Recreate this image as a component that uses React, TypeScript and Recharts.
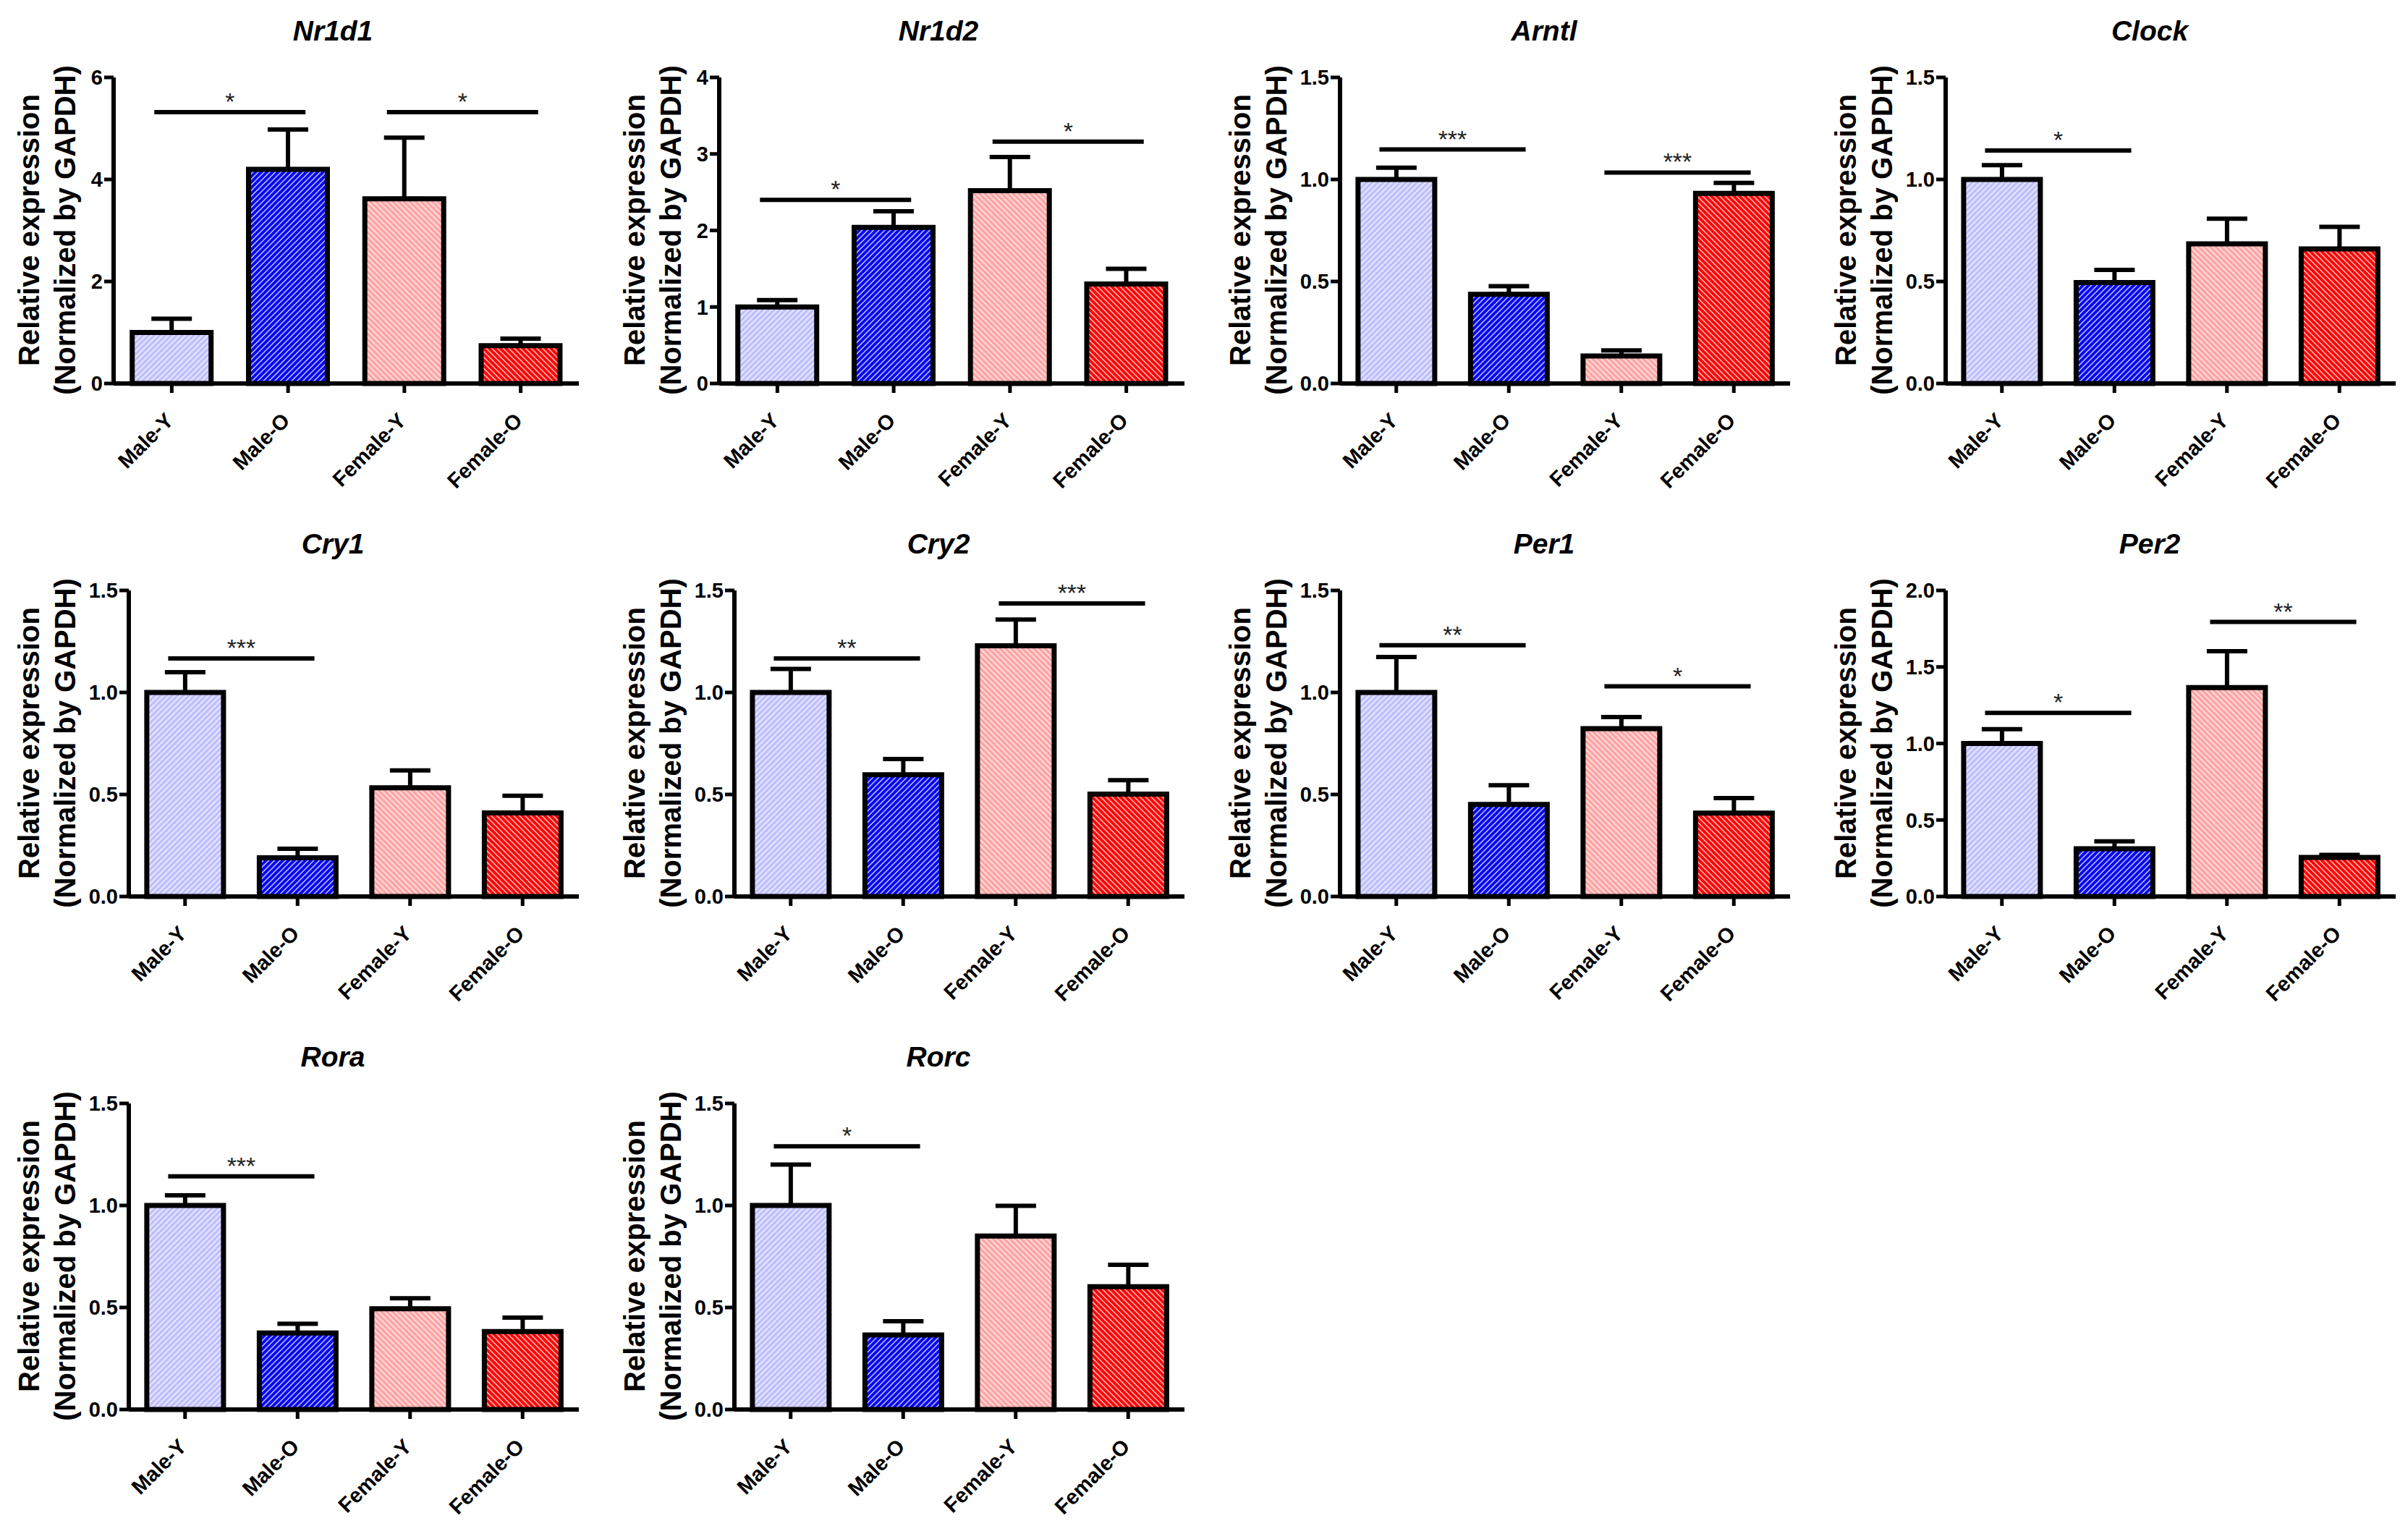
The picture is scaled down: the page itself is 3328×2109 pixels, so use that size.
import React from 'react';
import { BarChart, Bar, XAxis, YAxis, Cell, ErrorBar, ReferenceLine } from 'recharts';

const FONT = '"Liberation Sans", Arial, Helvetica, sans-serif';

const groups = ['Male-Y', 'Male-O', 'Female-Y', 'Female-O'];
const groupFills = ['#c0c0ff', '#0000f2', '#ffa4a4', '#ff0000'];
const groupSlant = [45, 45, -45, -45];

// means and SEM (upper error only)
const nr1d1 = [1.0, 4.2, 3.62, 0.74];
const nr1d1Sem = [0.27, 0.78, 1.2, 0.14];
const nr1d2 = [1.0, 2.04, 2.52, 1.3];
const nr1d2Sem = [0.09, 0.21, 0.44, 0.2];
const arntl = [1.0, 0.437, 0.135, 0.932];
const arntlSem = [0.058, 0.04, 0.027, 0.051];
const clock = [1.0, 0.495, 0.684, 0.66];
const clockSem = [0.07, 0.062, 0.124, 0.108];
const cry1 = [1.0, 0.19, 0.533, 0.41];
const cry1Sem = [0.099, 0.044, 0.085, 0.084];
const cry2 = [1.0, 0.597, 1.229, 0.502];
const cry2Sem = [0.115, 0.077, 0.128, 0.068];
const per1 = [1.0, 0.451, 0.823, 0.409];
const per1Sem = [0.174, 0.094, 0.056, 0.073];
const per2 = [1.0, 0.312, 1.365, 0.255];
const per2Sem = [0.093, 0.049, 0.238, 0.017];
const rora = [1.0, 0.375, 0.494, 0.382];
const roraSem = [0.05, 0.045, 0.051, 0.068];
const rorc = [1.0, 0.365, 0.85, 0.602];
const rorcSem = [0.2, 0.068, 0.148, 0.107];

const ticks6 = [0, 2, 4, 6];
const ticks4 = [0, 1, 2, 3, 4];
const ticks15 = [0, 0.5, 1.0, 1.5];
const ticks2 = [0, 0.5, 1.0, 1.5, 2.0];

// significance brackets: from group, to group, height, stars
const nr1d1Sig = [{ from: 0, to: 1, y: 5.32, text: '*' }, { from: 2, to: 3, y: 5.32, text: '*' }];
const nr1d2Sig = [{ from: 0, to: 1, y: 2.4, text: '*' }, { from: 2, to: 3, y: 3.16, text: '*' }];
const arntlSig = [{ from: 0, to: 1, y: 1.147, text: '***' }, { from: 2, to: 3, y: 1.034, text: '***' }];
const clockSig = [{ from: 0, to: 1, y: 1.142, text: '*' }];
const cry1Sig = [{ from: 0, to: 1, y: 1.167, text: '***' }];
const cry2Sig = [{ from: 0, to: 1, y: 1.167, text: '**' }, { from: 2, to: 3, y: 1.436, text: '***' }];
const per1Sig = [{ from: 0, to: 1, y: 1.231, text: '**' }, { from: 2, to: 3, y: 1.03, text: '*' }];
const per2Sig = [{ from: 0, to: 1, y: 1.2, text: '*' }, { from: 2, to: 3, y: 1.794, text: '**' }];
const roraSig = [{ from: 0, to: 1, y: 1.143, text: '***' }];
const rorcSig = [{ from: 0, to: 1, y: 1.29, text: '*' }];

const panels = [
  { gene: 'Nr1d1', mean: nr1d1, sem: nr1d1Sem, ticks: ticks6, sig: nr1d1Sig },
  { gene: 'Nr1d2', mean: nr1d2, sem: nr1d2Sem, ticks: ticks4, sig: nr1d2Sig },
  { gene: 'Arntl', mean: arntl, sem: arntlSem, ticks: ticks15, sig: arntlSig },
  { gene: 'Clock', mean: clock, sem: clockSem, ticks: ticks15, sig: clockSig },
  { gene: 'Cry1', mean: cry1, sem: cry1Sem, ticks: ticks15, sig: cry1Sig },
  { gene: 'Cry2', mean: cry2, sem: cry2Sem, ticks: ticks15, sig: cry2Sig },
  { gene: 'Per1', mean: per1, sem: per1Sem, ticks: ticks15, sig: per1Sig },
  { gene: 'Per2', mean: per2, sem: per2Sem, ticks: ticks2, sig: per2Sig },
  { gene: 'Rora', mean: rora, sem: roraSem, ticks: ticks15, sig: roraSig },
  { gene: 'Rorc', mean: rorc, sem: rorcSem, ticks: ticks15, sig: rorcSig },
];

const PW = 837;
const PH = 709;

function GroupTick(props: any) {
  const { x, y, payload } = props;
  const ax = x + 4;
  const ay = y + 38;
  return (
    <text
      x={ax}
      y={ay}
      transform={`rotate(-45, ${ax}, ${ay})`}
      textAnchor="end"
      fontSize={29}
      fontWeight="bold"
      fontFamily={FONT}
      fill="#000"
    >
      {payload.value}
    </text>
  );
}

function Hatches() {
  return (
    <svg width={0} height={0} style={{ position: 'absolute' }}>
      <defs>
        {groupFills.map((c, i) => (
          <pattern
            key={i}
            id={`hatch${i}`}
            patternUnits="userSpaceOnUse"
            width={5.5}
            height={5.5}
            patternTransform={`rotate(${groupSlant[i]})`}
          >
            <rect width={5.5} height={5.5} fill={c} />
            <line x1={2.75} y1={0} x2={2.75} y2={5.5} stroke="#fff" strokeWidth={1.6} opacity={0.75} />
          </pattern>
        ))}
      </defs>
    </svg>
  );
}

function Panel({ p, left, top }: any) {
  const decimal = p.ticks.some((t: number) => !Number.isInteger(t));
  const data = groups.map((g, i) => ({ group: g, pos: i + 0.5, value: p.mean[i], err: [0, p.sem[i]] }));
  const yMax = p.ticks[p.ticks.length - 1];

  return (
    <div style={{ position: 'absolute', left, top, width: PW, height: PH }}>
      <BarChart
        width={PW}
        height={PH}
        data={data}
        margin={{ top: 107, right: 37, bottom: 0, left: 0 }}
        barCategoryGap="16%"
      >
        <XAxis
          dataKey="group"
          height={179}
          interval={0}
          tickSize={13}
          tickMargin={2}
          axisLine={{ stroke: '#000', strokeWidth: 6 }}
          tickLine={{ stroke: '#000', strokeWidth: 5 }}
          tick={(props: any) => <GroupTick {...props} />}
        />
        <XAxis
          xAxisId="sig"
          dataKey="pos"
          type="number"
          domain={[0, 4]}
          allowDataOverflow
          padding={{ left: 0, right: 0 }}
          hide
        />
        <YAxis
          width={decimal ? 178 : 157}
          domain={[0, yMax]}
          ticks={p.ticks}
          interval={0}
          tickSize={13}
          tickMargin={2}
          tickFormatter={(v: number) => (decimal ? v.toFixed(1) : String(v))}
          axisLine={{ stroke: '#000', strokeWidth: 6 }}
          tickLine={{ stroke: '#000', strokeWidth: 5 }}
          tick={{ fill: '#000', fontSize: 29, fontWeight: 'bold', fontFamily: FONT }}
        />
        <Bar dataKey="value" stroke="#000" strokeWidth={7} isAnimationActive={false}>
          {data.map((d, i) => (
            <Cell key={d.group} fill={`url(#hatch${i})`} />
          ))}
          <ErrorBar dataKey="err" width={28} stroke="#000" strokeWidth={6} isAnimationActive={false} />
        </Bar>
        {p.sig.map((s: any, k: number) => (
          <ReferenceLine
            key={k}
            xAxisId="sig"
            segment={[
              { x: s.from + 0.35, y: s.y },
              { x: s.to + 0.65, y: s.y },
            ]}
            stroke="#000"
            strokeWidth={6}
            ifOverflow="visible"
            label={{ value: s.text, position: 'top', offset: 3, fontSize: 34, fill: '#222', fontFamily: FONT }}
          />
        ))}
      </BarChart>
      <svg
        width={PW}
        height={PH}
        style={{ position: 'absolute', left: 0, top: 0, pointerEvents: 'none' }}
      >
        <text
          x={460}
          y={56}
          textAnchor="middle"
          fontSize={39}
          fontWeight="bold"
          fontStyle="italic"
          fontFamily={FONT}
          fill="#000"
        >
          {p.gene}
        </text>
        <g fontSize={40} fontWeight="bold" fontFamily={FONT} fill="#000" textAnchor="middle">
          <text x={54} y={318} transform="rotate(-90, 54, 318)">
            Relative expression
          </text>
          <text x={104} y={318} transform="rotate(-90, 104, 318)">
            (Normalized by GAPDH)
          </text>
        </g>
      </svg>
    </div>
  );
}

export default function App() {
  return (
    <div
      style={{
        position: 'absolute',
        left: 0,
        top: 0,
        width: 3328,
        height: 2109,
        overflow: 'hidden',
        background: '#fff',
      }}
    >
      <Hatches />
      {panels.map((p, i) => (
        <Panel key={p.gene} p={p} left={(i % 4) * PW} top={Math.floor(i / 4) * PH} />
      ))}
    </div>
  );
}
